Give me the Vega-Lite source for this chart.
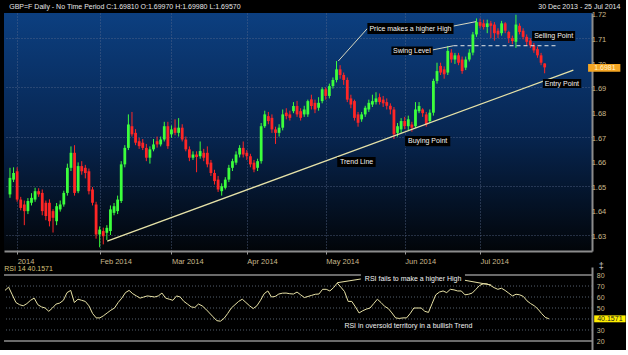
{
  "$schema": "https://vega.github.io/schema/vega-lite/v6.json",
  "background": "#000000",
  "padding": {"left": 2, "top": 2, "right": 0, "bottom": 0},
  "bounds": "flush",
  "spacing": 16,
  "config": {"view": {"stroke": null}, "font": "Liberation Sans", "axis": {"labelFont": "Liberation Sans"}},
  "datasets": {
    "ohlc": [
      {"i":0,"o":1.6465,"h":1.6573,"l":1.6451,"c":1.6532,"r":66},
      {"i":1,"o":1.6525,"h":1.6575,"l":1.6515,"c":1.6552,"r":69},
      {"i":2,"o":1.6559,"h":1.6575,"l":1.6435,"c":1.6444,"r":62},
      {"i":3,"o":1.6444,"h":1.6455,"l":1.6400,"c":1.6410,"r":55},
      {"i":4,"o":1.6424,"h":1.6440,"l":1.6340,"c":1.6397,"r":53},
      {"i":5,"o":1.6397,"h":1.6450,"l":1.6385,"c":1.6438,"r":52},
      {"i":6,"o":1.6431,"h":1.6470,"l":1.6420,"c":1.6451,"r":54},
      {"i":7,"o":1.6444,"h":1.6492,"l":1.6435,"c":1.6478,"r":57},
      {"i":8,"o":1.6478,"h":1.6490,"l":1.6455,"c":1.6465,"r":59},
      {"i":9,"o":1.6471,"h":1.6485,"l":1.6380,"c":1.6397,"r":53},
      {"i":10,"o":1.6431,"h":1.6440,"l":1.6360,"c":1.6377,"r":51},
      {"i":11,"o":1.6431,"h":1.6445,"l":1.6335,"c":1.6356,"r":50},
      {"i":12,"o":1.6397,"h":1.6405,"l":1.6310,"c":1.6370,"r":47},
      {"i":13,"o":1.6356,"h":1.6430,"l":1.6340,"c":1.6417,"r":50},
      {"i":14,"o":1.6404,"h":1.6440,"l":1.6395,"c":1.6424,"r":53.6},
      {"i":15,"o":1.6424,"h":1.6480,"l":1.6415,"c":1.6471,"r":54.5},
      {"i":16,"o":1.6471,"h":1.6590,"l":1.6460,"c":1.6573,"r":57},
      {"i":17,"o":1.6573,"h":1.6660,"l":1.6560,"c":1.6634,"r":64},
      {"i":18,"o":1.6634,"h":1.6665,"l":1.6460,"c":1.6471,"r":66},
      {"i":19,"o":1.6478,"h":1.6595,"l":1.6470,"c":1.6580,"r":55},
      {"i":20,"o":1.6580,"h":1.6600,"l":1.6545,"c":1.6559,"r":58},
      {"i":21,"o":1.6573,"h":1.6585,"l":1.6530,"c":1.6552,"r":57},
      {"i":22,"o":1.6559,"h":1.6570,"l":1.6465,"c":1.6478,"r":56},
      {"i":23,"o":1.6485,"h":1.6495,"l":1.6420,"c":1.6431,"r":52},
      {"i":24,"o":1.6424,"h":1.6435,"l":1.6285,"c":1.6302,"r":45},
      {"i":25,"o":1.6302,"h":1.6335,"l":1.6250,"c":1.6322,"r":41},
      {"i":26,"o":1.6316,"h":1.6330,"l":1.6262,"c":1.6295,"r":41},
      {"i":27,"o":1.6309,"h":1.6340,"l":1.6280,"c":1.6329,"r":43},
      {"i":28,"o":1.6316,"h":1.6420,"l":1.6300,"c":1.6404,"r":45.5},
      {"i":29,"o":1.6390,"h":1.6430,"l":1.6380,"c":1.6417,"r":48},
      {"i":30,"o":1.6397,"h":1.6460,"l":1.6385,"c":1.6444,"r":50},
      {"i":31,"o":1.6438,"h":1.6600,"l":1.6430,"c":1.6587,"r":55},
      {"i":32,"o":1.6587,"h":1.6665,"l":1.6575,"c":1.6654,"r":59},
      {"i":33,"o":1.6654,"h":1.6790,"l":1.6645,"c":1.6749,"r":64},
      {"i":34,"o":1.6742,"h":1.6800,"l":1.6700,"c":1.6709,"r":66},
      {"i":35,"o":1.6715,"h":1.6730,"l":1.6665,"c":1.6675,"r":63},
      {"i":36,"o":1.6681,"h":1.6695,"l":1.6650,"c":1.6661,"r":61},
      {"i":37,"o":1.6675,"h":1.6690,"l":1.6645,"c":1.6654,"r":59},
      {"i":38,"o":1.6654,"h":1.6670,"l":1.6600,"c":1.6614,"r":60},
      {"i":39,"o":1.6614,"h":1.6660,"l":1.6590,"c":1.6648,"r":61},
      {"i":40,"o":1.6648,"h":1.6690,"l":1.6640,"c":1.6668,"r":60.5},
      {"i":41,"o":1.6681,"h":1.6700,"l":1.6655,"c":1.6668,"r":60},
      {"i":42,"o":1.6668,"h":1.6700,"l":1.6660,"c":1.6688,"r":61},
      {"i":43,"o":1.6688,"h":1.6760,"l":1.6680,"c":1.6742,"r":63.6},
      {"i":44,"o":1.6742,"h":1.6760,"l":1.6650,"c":1.6661,"r":59},
      {"i":45,"o":1.6709,"h":1.6745,"l":1.6695,"c":1.6729,"r":58},
      {"i":46,"o":1.6736,"h":1.6770,"l":1.6705,"c":1.6715,"r":57},
      {"i":47,"o":1.6715,"h":1.6775,"l":1.6700,"c":1.6736,"r":61},
      {"i":48,"o":1.6736,"h":1.6750,"l":1.6680,"c":1.6688,"r":60},
      {"i":49,"o":1.6688,"h":1.6700,"l":1.6640,"c":1.6648,"r":56},
      {"i":50,"o":1.6648,"h":1.6660,"l":1.6600,"c":1.6614,"r":53.6},
      {"i":51,"o":1.6614,"h":1.6640,"l":1.6605,"c":1.6627,"r":51},
      {"i":52,"o":1.6627,"h":1.6640,"l":1.6555,"c":1.6617,"r":50.5},
      {"i":53,"o":1.6620,"h":1.6680,"l":1.6610,"c":1.6641,"r":53.6},
      {"i":54,"o":1.6634,"h":1.6650,"l":1.6600,"c":1.6614,"r":52},
      {"i":55,"o":1.6634,"h":1.6660,"l":1.6575,"c":1.6587,"r":49},
      {"i":56,"o":1.6594,"h":1.6605,"l":1.6540,"c":1.6552,"r":45.5},
      {"i":57,"o":1.6552,"h":1.6565,"l":1.6505,"c":1.6519,"r":42},
      {"i":58,"o":1.6525,"h":1.6540,"l":1.6475,"c":1.6485,"r":38.5},
      {"i":59,"o":1.6478,"h":1.6510,"l":1.6460,"c":1.6498,"r":38},
      {"i":60,"o":1.6492,"h":1.6535,"l":1.6485,"c":1.6525,"r":40.5},
      {"i":61,"o":1.6525,"h":1.6585,"l":1.6515,"c":1.6573,"r":45},
      {"i":62,"o":1.6573,"h":1.6610,"l":1.6560,"c":1.6600,"r":50},
      {"i":63,"o":1.6594,"h":1.6640,"l":1.6585,"c":1.6627,"r":53},
      {"i":64,"o":1.6627,"h":1.6665,"l":1.6615,"c":1.6654,"r":56},
      {"i":65,"o":1.6654,"h":1.6680,"l":1.6615,"c":1.6627,"r":58},
      {"i":66,"o":1.6634,"h":1.6645,"l":1.6605,"c":1.6620,"r":55},
      {"i":67,"o":1.6620,"h":1.6630,"l":1.6575,"c":1.6587,"r":52},
      {"i":68,"o":1.6594,"h":1.6605,"l":1.6555,"c":1.6566,"r":49.5},
      {"i":69,"o":1.6573,"h":1.6610,"l":1.6560,"c":1.6600,"r":52},
      {"i":70,"o":1.6600,"h":1.6755,"l":1.6590,"c":1.6742,"r":57},
      {"i":71,"o":1.6742,"h":1.6805,"l":1.6735,"c":1.6790,"r":63},
      {"i":72,"o":1.6783,"h":1.6800,"l":1.6750,"c":1.6763,"r":65.5},
      {"i":73,"o":1.6776,"h":1.6790,"l":1.6715,"c":1.6729,"r":60},
      {"i":74,"o":1.6729,"h":1.6740,"l":1.6670,"c":1.6715,"r":60.5},
      {"i":75,"o":1.6715,"h":1.6750,"l":1.6700,"c":1.6736,"r":62.7},
      {"i":76,"o":1.6736,"h":1.6810,"l":1.6725,"c":1.6790,"r":63.5},
      {"i":77,"o":1.6797,"h":1.6815,"l":1.6770,"c":1.6783,"r":63.6},
      {"i":78,"o":1.6790,"h":1.6805,"l":1.6765,"c":1.6776,"r":63},
      {"i":79,"o":1.6803,"h":1.6840,"l":1.6795,"c":1.6824,"r":62.7},
      {"i":80,"o":1.6824,"h":1.6845,"l":1.6780,"c":1.6790,"r":64.5},
      {"i":81,"o":1.6803,"h":1.6815,"l":1.6765,"c":1.6776,"r":62},
      {"i":82,"o":1.6790,"h":1.6825,"l":1.6780,"c":1.6810,"r":59.5},
      {"i":83,"o":1.6790,"h":1.6850,"l":1.6780,"c":1.6844,"r":60.5},
      {"i":84,"o":1.6851,"h":1.6870,"l":1.6810,"c":1.6824,"r":61.5},
      {"i":85,"o":1.6837,"h":1.6850,"l":1.6795,"c":1.6810,"r":62.5},
      {"i":86,"o":1.6817,"h":1.6860,"l":1.6805,"c":1.6837,"r":62.7},
      {"i":87,"o":1.6844,"h":1.6900,"l":1.6835,"c":1.6892,"r":67},
      {"i":88,"o":1.6892,"h":1.6900,"l":1.6850,"c":1.6865,"r":67},
      {"i":89,"o":1.6865,"h":1.6915,"l":1.6855,"c":1.6905,"r":65.5},
      {"i":90,"o":1.6905,"h":1.6940,"l":1.6895,"c":1.6930,"r":68.5},
      {"i":91,"o":1.6930,"h":1.7007,"l":1.6920,"c":1.6973,"r":72.7},
      {"i":92,"o":1.6973,"h":1.6990,"l":1.6935,"c":1.6950,"r":69},
      {"i":93,"o":1.6950,"h":1.6960,"l":1.6910,"c":1.6930,"r":65},
      {"i":94,"o":1.6930,"h":1.6940,"l":1.6840,"c":1.6850,"r":56},
      {"i":95,"o":1.6855,"h":1.6870,"l":1.6815,"c":1.6830,"r":56},
      {"i":96,"o":1.6844,"h":1.6850,"l":1.6765,"c":1.6776,"r":51},
      {"i":97,"o":1.6790,"h":1.6800,"l":1.6740,"c":1.6756,"r":45.5},
      {"i":98,"o":1.6770,"h":1.6800,"l":1.6760,"c":1.6790,"r":47.5},
      {"i":99,"o":1.6790,"h":1.6825,"l":1.6780,"c":1.6817,"r":49},
      {"i":100,"o":1.6810,"h":1.6850,"l":1.6800,"c":1.6837,"r":50},
      {"i":101,"o":1.6830,"h":1.6870,"l":1.6820,"c":1.6844,"r":54},
      {"i":102,"o":1.6840,"h":1.6880,"l":1.6830,"c":1.6855,"r":58},
      {"i":103,"o":1.6860,"h":1.6875,"l":1.6830,"c":1.6840,"r":55},
      {"i":104,"o":1.6850,"h":1.6865,"l":1.6820,"c":1.6835,"r":51.5},
      {"i":105,"o":1.6840,"h":1.6855,"l":1.6810,"c":1.6825,"r":49.5},
      {"i":106,"o":1.6825,"h":1.6835,"l":1.6790,"c":1.6810,"r":45.5},
      {"i":107,"o":1.6810,"h":1.6820,"l":1.6690,"c":1.6709,"r":41},
      {"i":108,"o":1.6715,"h":1.6755,"l":1.6700,"c":1.6742,"r":40.5},
      {"i":109,"o":1.6729,"h":1.6775,"l":1.6715,"c":1.6763,"r":41},
      {"i":110,"o":1.6763,"h":1.6780,"l":1.6730,"c":1.6742,"r":41},
      {"i":111,"o":1.6742,"h":1.6785,"l":1.6725,"c":1.6770,"r":45},
      {"i":112,"o":1.6749,"h":1.6760,"l":1.6720,"c":1.6736,"r":50},
      {"i":113,"o":1.6742,"h":1.6840,"l":1.6735,"c":1.6810,"r":50},
      {"i":114,"o":1.6803,"h":1.6840,"l":1.6795,"c":1.6824,"r":50},
      {"i":115,"o":1.6810,"h":1.6815,"l":1.6780,"c":1.6795,"r":47},
      {"i":116,"o":1.6790,"h":1.6800,"l":1.6740,"c":1.6749,"r":46},
      {"i":117,"o":1.6763,"h":1.6810,"l":1.6755,"c":1.6797,"r":54},
      {"i":118,"o":1.6797,"h":1.6935,"l":1.6785,"c":1.6926,"r":62},
      {"i":119,"o":1.6926,"h":1.7000,"l":1.6915,"c":1.6966,"r":64.5},
      {"i":120,"o":1.6987,"h":1.7000,"l":1.6950,"c":1.6960,"r":65.5},
      {"i":121,"o":1.6973,"h":1.6985,"l":1.6935,"c":1.6953,"r":64},
      {"i":122,"o":1.6960,"h":1.7068,"l":1.6950,"c":1.7048,"r":67},
      {"i":123,"o":1.7041,"h":1.7055,"l":1.7000,"c":1.7013,"r":66.5},
      {"i":124,"o":1.7013,"h":1.7040,"l":1.6995,"c":1.7030,"r":65.5},
      {"i":125,"o":1.7030,"h":1.7040,"l":1.6990,"c":1.7000,"r":65.5},
      {"i":126,"o":1.7013,"h":1.7025,"l":1.6955,"c":1.6966,"r":62},
      {"i":127,"o":1.6980,"h":1.7025,"l":1.6970,"c":1.7013,"r":62.5},
      {"i":128,"o":1.7013,"h":1.7055,"l":1.7005,"c":1.7041,"r":63.6},
      {"i":129,"o":1.7041,"h":1.7125,"l":1.7030,"c":1.7115,"r":67},
      {"i":130,"o":1.7115,"h":1.7180,"l":1.7105,"c":1.7165,"r":70.5},
      {"i":131,"o":1.7165,"h":1.7180,"l":1.7140,"c":1.7150,"r":72},
      {"i":132,"o":1.7160,"h":1.7175,"l":1.7135,"c":1.7145,"r":72},
      {"i":133,"o":1.7145,"h":1.7175,"l":1.7120,"c":1.7160,"r":70.5},
      {"i":134,"o":1.7160,"h":1.7170,"l":1.7100,"c":1.7150,"r":68.5},
      {"i":135,"o":1.7155,"h":1.7165,"l":1.7090,"c":1.7120,"r":67},
      {"i":136,"o":1.7130,"h":1.7140,"l":1.7100,"c":1.7115,"r":68},
      {"i":137,"o":1.7120,"h":1.7170,"l":1.7110,"c":1.7160,"r":66},
      {"i":138,"o":1.7160,"h":1.7165,"l":1.7120,"c":1.7130,"r":63.5},
      {"i":139,"o":1.7125,"h":1.7130,"l":1.7080,"c":1.7100,"r":61},
      {"i":140,"o":1.7100,"h":1.7110,"l":1.7075,"c":1.7088,"r":62.5},
      {"i":141,"o":1.7085,"h":1.7195,"l":1.7060,"c":1.7155,"r":62},
      {"i":142,"o":1.7150,"h":1.7160,"l":1.7115,"c":1.7125,"r":60.5},
      {"i":143,"o":1.7130,"h":1.7140,"l":1.7095,"c":1.7105,"r":56.5},
      {"i":144,"o":1.7105,"h":1.7115,"l":1.7070,"c":1.7085,"r":54},
      {"i":145,"o":1.7090,"h":1.7100,"l":1.7060,"c":1.7070,"r":52},
      {"i":146,"o":1.7070,"h":1.7080,"l":1.7040,"c":1.7050,"r":49},
      {"i":147,"o":1.7055,"h":1.7065,"l":1.7020,"c":1.7030,"r":45},
      {"i":148,"o":1.7030,"h":1.7040,"l":1.6990,"c":1.7000,"r":41.5},
      {"i":149,"o":1.6997,"h":1.6998,"l":1.6957,"c":1.6981,"r":40.16}
    ],
    "ann": [
      {"t":"Price makes a higher High","i1":99.6,"i2":123.6,"p1":1.7117,"p2":1.7161,"ti":111.6,"tp":1.7139},
      {"t":"Swing Level","i1":106.3,"i2":117.8,"p1":1.7031,"p2":1.7066,"ti":112,"tp":1.7049},
      {"t":"Selling Point","i1":145.5,"i2":157.5,"p1":1.7088,"p2":1.7129,"ti":151.5,"tp":1.7109},
      {"t":"Entry Point","i1":148.5,"i2":159.2,"p1":1.6897,"p2":1.6934,"ti":153.8,"tp":1.6915},
      {"t":"Buying Point","i1":110.1,"i2":122.7,"p1":1.6661,"p2":1.6702,"ti":116.4,"tp":1.6682},
      {"t":"Trend Line","i1":91.2,"i2":101.9,"p1":1.6576,"p2":1.6617,"ti":96.6,"tp":1.6596}
    ],
    "links": [
      {"s":"hh1","i":91.5,"p":1.7007},{"s":"hh1","i":99.6,"p":1.7139},
      {"s":"hh2","i":123.6,"p":1.7149},{"s":"hh2","i":129.9,"p":1.7167},
      {"s":"sw","i":117.8,"p":1.7052},{"s":"sw","i":123.6,"p":1.7069}
    ],
    "rsiann": [
      {"t":"RSI fails to make a higher High","i1":97.5,"i2":126,"r1":72.2,"r2":80.9,"ti":111.8,"tr":76.4},
      {"t":"RSI in oversold territory in a bullish Trend","i1":91.5,"i2":129.6,"r1":29.6,"r2":37.6,"ti":110.5,"tr":33.6}
    ],
    "rsilinks": [
      {"s":"a","i":91,"r":73},{"s":"a","i":97.5,"r":76.4},
      {"s":"b","i":125.5,"r":75.5},{"s":"b","i":133.2,"r":70.9}
    ],
    "plabels": [{"v":1.63},{"v":1.64},{"v":1.65},{"v":1.66},{"v":1.67},{"v":1.68},{"v":1.69},{"v":1.70},{"v":1.71},{"v":1.72}],
    "rlabels": [{"v":20},{"v":30},{"v":50},{"v":60},{"v":70},{"v":80}]
  },
  "vconcat": [
    {
      "width": 588,
      "height": 238,
      "view": {"stroke": null, "fill": {"gradient": "linear", "x1": 0, "y1": 0, "x2": 0, "y2": 1, "stops": [{"offset": 0, "color": "#0c3f80"}, {"offset": 0.5, "color": "#072652"}, {"offset": 1, "color": "#020509"}]}},
      "layer": [
        {
          "data": {"name": "ohlc"},
          "mark": {"type": "rule", "strokeWidth": 1},
          "encoding": {
            "x": {"field": "i", "type": "quantitative", "scale": {"domain": [-0.27, 160.8], "nice": false, "zero": false},
              "axis": {"values": [2, 25, 45, 66, 88, 110, 131], "labelExpr": "datum.value==2?'2014':datum.value==25?'Feb 2014':datum.value==45?'Mar 2014':datum.value==66?'Apr 2014':datum.value==88?'May 2014':datum.value==110?'Jun 2014':'Jul 2014'", "labelAlign": "left", "labelColor": "#c8b88c", "labelFontSize": 7.5, "labelPadding": 3, "tickSize": 3, "tickColor": "#9a9a9a", "domain": true, "domainColor": "#8c8c8c", "domainWidth": 2, "grid": true, "gridColor": "#5a6c90", "gridDash": [1, 2], "gridOpacity": 0.8, "title": null, "labelFlush": false, "labelOverlap": false}},
            "y": {"field": "l", "type": "quantitative", "scale": {"domain": [1.6235, 1.7202], "nice": false, "zero": false},
              "axis": {"orient": "right", "values": [1.63, 1.64, 1.65, 1.66, 1.67, 1.68, 1.69, 1.70, 1.71, 1.72], "labels": false, "ticks": false, "domain": true, "domainColor": "#8c8c8c", "domainWidth": 2, "grid": true, "gridColor": "#5a6c90", "gridDash": [1, 2], "gridOpacity": 0.8, "title": null}},
            "y2": {"field": "h"},
            "color": {"condition": {"test": "datum.c >= datum.o", "value": "#3cff3c"}, "value": "#ff2626"}
          }
        },
        {
          "data": {"name": "ohlc"},
          "mark": {"type": "bar", "size": 2.8},
          "encoding": {
            "x": {"field": "i", "type": "quantitative"},
            "y": {"field": "o", "type": "quantitative"},
            "y2": {"field": "c"},
            "color": {"condition": {"test": "datum.c >= datum.o", "value": "#3cff3c"}, "value": "#ff2626"}
          }
        },
        {
          "data": {"values": [{"i": 27.1, "p": 1.6275}, {"i": 157, "p": 1.6970}]},
          "mark": {"type": "line", "color": "#e6e2a8", "strokeWidth": 1.3},
          "encoding": {"x": {"field": "i", "type": "quantitative"}, "y": {"field": "p", "type": "quantitative"}}
        },
        {
          "data": {"name": "links"},
          "mark": {"type": "line", "color": "#d8d8c0", "strokeWidth": 1},
          "encoding": {"x": {"field": "i", "type": "quantitative"}, "y": {"field": "p", "type": "quantitative"}, "detail": {"field": "s"}}
        },
        {
          "data": {"values": [{"i": 123.6, "p": 1.7069}, {"i": 152.3, "p": 1.7069}]},
          "mark": {"type": "line", "color": "#e8e8e8", "strokeWidth": 1, "strokeDash": [4, 3]},
          "encoding": {"x": {"field": "i", "type": "quantitative"}, "y": {"field": "p", "type": "quantitative"}}
        },
        {
          "data": {"name": "ann"},
          "mark": {"type": "rect", "color": "#000000"},
          "encoding": {"x": {"field": "i1", "type": "quantitative"}, "x2": {"field": "i2"}, "y": {"field": "p1", "type": "quantitative"}, "y2": {"field": "p2"}}
        },
        {
          "data": {"name": "ann"},
          "mark": {"type": "text", "color": "#f2f2f2", "fontSize": 7},
          "encoding": {"x": {"field": "ti", "type": "quantitative"}, "y": {"field": "tp", "type": "quantitative"}, "text": {"field": "t"}}
        },
        {
          "data": {"name": "plabels"},
          "mark": {"type": "text", "color": "#c8b88c", "fontSize": 7.5, "align": "left", "dy": 2},
          "encoding": {"x": {"datum": 162.1, "type": "quantitative"}, "y": {"field": "v", "type": "quantitative"}, "text": {"field": "v", "type": "quantitative", "format": ".2f"}}
        },
        {
          "data": {"values": [{"i1": 161.1, "i2": 170.1, "p1": 1.6963, "p2": 1.6995}]},
          "mark": {"type": "rect", "color": "#f5a623", "clip": false},
          "encoding": {"x": {"field": "i1", "type": "quantitative"}, "x2": {"field": "i2"}, "y": {"field": "p1", "type": "quantitative"}, "y2": {"field": "p2"}}
        },
        {
          "data": {"values": [{"t": "1.6981", "i": 165.8, "p": 1.6979}]},
          "mark": {"type": "text", "color": "#fff3d0", "fontSize": 7},
          "encoding": {"x": {"field": "i", "type": "quantitative"}, "y": {"field": "p", "type": "quantitative"}, "text": {"field": "t"}}
        },
        {
          "data": {"values": [{"t": "GBP=F Daily -  No Time Period   C:1.69810  O:1.69970  H:1.69980  L:1.69570", "i": -0.2, "p": 1.7228}]},
          "mark": {"type": "text", "color": "#e6e6e6", "fontSize": 7, "align": "left"},
          "encoding": {"x": {"field": "i", "type": "quantitative"}, "y": {"field": "p", "type": "quantitative"}, "text": {"field": "t"}}
        },
        {
          "data": {"values": [{"t": "30 Dec 2013  -  25 Jul 2014", "i": 170.1, "p": 1.7228}]},
          "mark": {"type": "text", "color": "#e6e6e6", "fontSize": 7, "align": "right"},
          "encoding": {"x": {"field": "i", "type": "quantitative"}, "y": {"field": "p", "type": "quantitative"}, "text": {"field": "t"}}
        }
      ]
    },
    {
      "width": 588,
      "height": 83,
      "layer": [
        {
          "data": {"values": [{"g": 30}, {"g": 40}, {"g": 50}, {"g": 60}, {"g": 70}]},
          "mark": {"type": "rule", "strokeDash": [1, 2], "color": "#55606e", "strokeWidth": 1},
          "encoding": {
            "y": {"field": "g", "type": "quantitative", "scale": {"domain": [11.8, 87.3], "nice": false, "zero": false},
              "axis": {"orient": "right", "values": [20, 80], "labels": false, "ticks": false, "domain": true, "domainColor": "#8c8c8c", "domainWidth": 2, "grid": false, "title": null}}
          }
        },
        {
          "data": {"values": [{"g": 80}, {"g": 20}]},
          "mark": {"type": "rule", "color": "#8e8e8e", "strokeWidth": 1.5},
          "encoding": {"y": {"field": "g", "type": "quantitative"}}
        },
        {
          "data": {"name": "ohlc"},
          "mark": {"type": "line", "color": "#e8e2a6", "strokeWidth": 1},
          "encoding": {
            "x": {"field": "i", "type": "quantitative", "scale": {"domain": [-0.27, 160.8], "nice": false, "zero": false}, "axis": null},
            "y": {"field": "r", "type": "quantitative"}
          }
        },
        {
          "data": {"name": "rsilinks"},
          "mark": {"type": "line", "color": "#e8e2a6", "strokeWidth": 1},
          "encoding": {"x": {"field": "i", "type": "quantitative"}, "y": {"field": "r", "type": "quantitative"}, "detail": {"field": "s"}}
        },
        {
          "data": {"name": "rsiann"},
          "mark": {"type": "rect", "color": "#000000"},
          "encoding": {"x": {"field": "i1", "type": "quantitative"}, "x2": {"field": "i2"}, "y": {"field": "r1", "type": "quantitative"}, "y2": {"field": "r2"}}
        },
        {
          "data": {"name": "rsiann"},
          "mark": {"type": "text", "color": "#f2f2f2", "fontSize": 7},
          "encoding": {"x": {"field": "ti", "type": "quantitative"}, "y": {"field": "tr", "type": "quantitative"}, "text": {"field": "t"}}
        },
        {
          "data": {"name": "rlabels"},
          "mark": {"type": "text", "color": "#c8b88c", "fontSize": 7, "align": "left", "dy": 1},
          "encoding": {"x": {"datum": 162.1, "type": "quantitative"}, "y": {"field": "v", "type": "quantitative"}, "text": {"field": "v", "type": "quantitative"}}
        },
        {
          "data": {"values": [{"i1": 161.4, "i2": 170.0, "r1": 37.0, "r2": 43.3}]},
          "mark": {"type": "rect", "color": "#ffee00", "clip": false},
          "encoding": {"x": {"field": "i1", "type": "quantitative"}, "x2": {"field": "i2"}, "y": {"field": "r1", "type": "quantitative"}, "y2": {"field": "r2"}}
        },
        {
          "data": {"values": [{"t": "40.1571", "i": 165.7, "r": 40.16}]},
          "mark": {"type": "text", "color": "#222222", "fontSize": 7},
          "encoding": {"x": {"field": "i", "type": "quantitative"}, "y": {"field": "r", "type": "quantitative"}, "text": {"field": "t"}}
        },
        {
          "data": {"values": [{"t": "RSI 14 40.1571", "i": -0.2, "r": 85.5}]},
          "mark": {"type": "text", "color": "#d8c47c", "fontSize": 7, "align": "left"},
          "encoding": {"x": {"field": "i", "type": "quantitative"}, "y": {"field": "r", "type": "quantitative"}, "text": {"field": "t"}}
        },
        {
          "data": {"values": [{"t": "‡", "i": 163.3, "r": 88.5}]},
          "mark": {"type": "text", "color": "#d0d0d0", "fontSize": 9},
          "encoding": {"x": {"field": "i", "type": "quantitative"}, "y": {"field": "r", "type": "quantitative"}, "text": {"field": "t"}}
        }
      ]
    }
  ]
}
